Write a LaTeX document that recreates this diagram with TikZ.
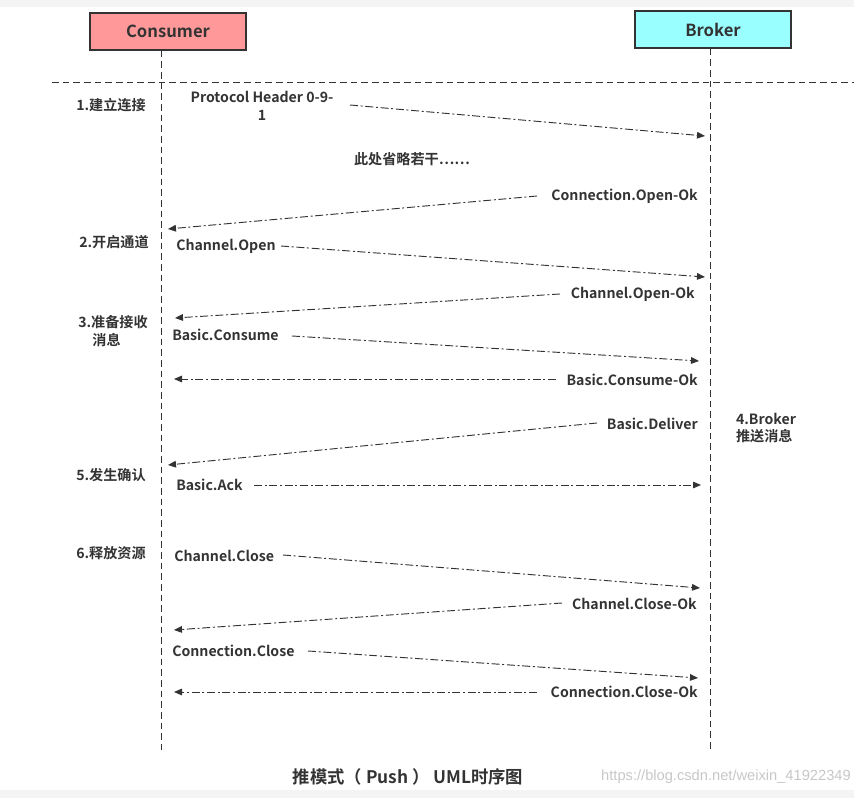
\documentclass[tikz,border=0pt]{standalone}
\usepackage{fontspec}
\setmainfont{Noto Sans CJK SC}[BoldFont={Noto Sans CJK SC Bold}]
\newfontfamily\wmfont{Liberation Sans}
\usetikzlibrary{arrows.meta}
\definecolor{cons}{HTML}{FF9999}
\definecolor{brok}{HTML}{99FFFF}
\definecolor{ink}{HTML}{333333}
\definecolor{band}{HTML}{F4F4F4}
\begin{document}
\begin{tikzpicture}[x=0.75pt,y=-0.75pt,
  lbl/.style={font=\bfseries\fontsize{10.6}{13}\selectfont,text=ink,inner sep=0pt},
  msg/.style={draw=ink,line width=0.7pt,dash pattern=on 6pt off 2pt on 1.5pt off 2pt,-{Triangle[length=6pt,width=5pt]}},
  life/.style={draw=ink,line width=0.7pt,dash pattern=on 5pt off 3pt},
  head/.style={draw=ink,line width=1pt,minimum width=117pt,minimum height=27.75pt,font=\bfseries\fontsize{12.5}{14}\selectfont,text=ink}]
\useasboundingbox (0,0) rectangle (854,798);
\fill[band] (0,0) rectangle (854,7);
\fill[band] (0,790) rectangle (854,798);
\node[head,fill=cons] (C) at (168,31.5) {Consumer};
\node[head,fill=brok] (B) at (713,29.5) {Broker};
\coordinate (Ce) at (161,750);
\coordinate (Be) at (710,750);
\draw[life] (C.south -| Ce) -- (Ce);
\draw[life] (B.south -| Be) -- (Be);
\coordinate (h1) at (52,82); \coordinate (h2) at (854,82);
\draw[life] (h1) -- (h2);
% side labels
\node[lbl] at (111,105) {1.建立连接};
\node[lbl] at (114,242) {2.开启通道};
\node[lbl,align=left] at (113,331) {3.准备接收\\\quad 消息};
\node[lbl,align=left] at (766,428) {4.Broker\\推送消息};
\node[lbl] at (111,475) {5.发生确认};
\node[lbl] at (111,553) {6.释放资源};
\node[lbl] at (412,159) {此处省略若干……};
% messages
\node[lbl,align=center] (m1) at (262,106) {Protocol Header 0-9-\\1};
\coordinate (m1s) at (350,105); \coordinate (m1e) at (705,136);
\draw[msg] (m1s) -- (m1e);

\node[lbl,anchor=east] (m2) at (698,196) {Connection.Open-Ok};
\coordinate (m2s) at (537,196); \coordinate (m2e) at (168,229);
\draw[msg] (m2s) -- (m2e);

\node[lbl,anchor=west] (m3) at (176,246) {Channel.Open};
\coordinate (m3s) at (281,246); \coordinate (m3e) at (705,277);
\draw[msg] (m3s) -- (m3e);

\node[lbl,anchor=east] (m4) at (695,294) {Channel.Open-Ok};
\coordinate (m4s) at (560,294); \coordinate (m4e) at (175,318);
\draw[msg] (m4s) -- (m4e);

\node[lbl,anchor=west] (m5) at (172,335) {Basic.Consume};
\coordinate (m5s) at (292,336); \coordinate (m5e) at (699,361);
\draw[msg] (m5s) -- (m5e);

\node[lbl,anchor=east] (m6) at (698,380) {Basic.Consume-Ok};
\coordinate (m6s) at (556,379); \coordinate (m6e) at (174,379);
\draw[msg] (m6s) -- (m6e);

\node[lbl,anchor=east] (m7) at (698,424) {Basic.Deliver};
\coordinate (m7s) at (597,423); \coordinate (m7e) at (168,465);
\draw[msg] (m7s) -- (m7e);

\node[lbl,anchor=west] (m8) at (176,485) {Basic.Ack};
\coordinate (m8s) at (254,485); \coordinate (m8e) at (701,485);
\draw[msg] (m8s) -- (m8e);

\node[lbl,anchor=west] (m9) at (174,556) {Channel.Close};
\coordinate (m9s) at (283,555); \coordinate (m9e) at (700,588);
\draw[msg] (m9s) -- (m9e);

\node[lbl,anchor=east] (m10) at (697,604) {Channel.Close-Ok};
\coordinate (m10s) at (562,603); \coordinate (m10e) at (174,630);
\draw[msg] (m10s) -- (m10e);

\node[lbl,anchor=west] (m11) at (172,651) {Connection.Close};
\coordinate (m11s) at (308,651); \coordinate (m11e) at (698,678);
\draw[msg] (m11s) -- (m11e);

\node[lbl,anchor=east] (m12) at (698,692) {Connection.Close-Ok};
\coordinate (m12s) at (537,692); \coordinate (m12e) at (174,692);
\draw[msg] (m12s) -- (m12e);

\node[lbl,font=\bfseries\fontsize{13}{15}\selectfont] (title) at (408,777) {推模式（ Push ） UML时序图};
\node[text=black!22,font=\wmfont\fontsize{11}{12}\selectfont,inner sep=0pt] (wm) at (726,777) {https://blog.csdn.net/weixin\_41922349};
\end{tikzpicture}
\end{document}
